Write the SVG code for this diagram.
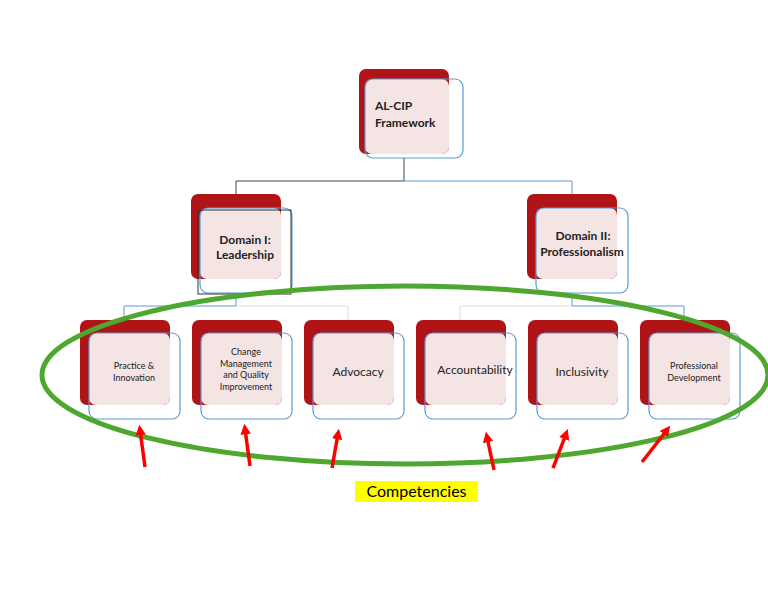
<svg xmlns="http://www.w3.org/2000/svg" width="768" height="594" viewBox="0 0 768 594">
<defs>
<style>
.red{fill:#b01417}
.pink{fill:#f5e4e4}
.frame{fill:none;stroke:#5b9bd5;stroke-width:1.2}
.t{font-family:"Lato","Liberation Sans",sans-serif;fill:#222;text-anchor:middle}
.b{font-weight:bold;font-size:12px}
.s{font-size:9px}
.m{font-size:12px}
.arr{stroke:#ff0000;stroke-width:3.5;fill:none;marker-end:url(#ah)}
</style>
<marker id="ah" viewBox="0 0 10 10" refX="5" refY="5" markerWidth="3" markerHeight="3" orient="auto"><path d="M0,0 L10,5 L0,10 z" fill="#ff0000"/></marker>
</defs>
<rect width="768" height="594" fill="#fff"/>
<g id="connectors" fill="none" stroke-width="1">
<path d="M404 158 V181 H236 V194" stroke="#444"/>
<path d="M404 181 H572 V208" stroke="#5b9bd5"/>
<path d="M236 293 V306 H124 V333" stroke="#5b9bd5"/>
<path d="M236 306 H348 V320" stroke="#ddd"/>
<path d="M572 293 V306 H684 V333" stroke="#5b9bd5"/>
<path d="M572 306 H460 V320" stroke="#ddd"/>
</g>
<g id="n-top"><rect class="red" x="359" y="69" width="90" height="85" rx="7"/><rect class="pink" x="365" y="79" width="84" height="75" rx="7"/><rect class="frame" x="365" y="79" width="98" height="79" rx="8"/>
<text class="t b" x="375" y="110" text-anchor="start" style="text-anchor:start">AL-CIP</text><text class="t b" x="375" y="127" style="text-anchor:start">Framework</text></g>
<g id="n-d1"><rect class="red" x="191" y="194" width="90" height="85" rx="7"/><rect class="pink" x="200" y="208" width="81" height="71" rx="7"/><rect class="frame" x="200" y="208" width="92" height="85" rx="8"/><rect x="198" y="210" width="93" height="84" fill="none" stroke="#333" stroke-width="1"/>
<text class="t b" x="245" y="244">Domain I:</text><text class="t b" x="245" y="259">Leadership</text></g>
<g id="n-d2"><rect class="red" x="527" y="194" width="90" height="85" rx="7"/><rect class="pink" x="536" y="208" width="81" height="71" rx="7"/><rect class="frame" x="536" y="208" width="92" height="85" rx="8"/>
<text class="t b" x="583" y="240">Domain II:</text><text class="t b" x="582" y="256">Professionalism</text></g>
<g id="n-c1"><rect class="red" x="80" y="320" width="90" height="85" rx="7"/><rect class="pink" x="89" y="333" width="81" height="72" rx="7"/><rect class="frame" x="89" y="333" width="91" height="86" rx="8"/>
<text class="t s" x="134" y="369">Practice &amp;</text><text class="t s" x="134" y="381">Innovation</text></g>
<g id="n-c2"><rect class="red" x="192" y="320" width="90" height="85" rx="7"/><rect class="pink" x="201" y="333" width="81" height="72" rx="7"/><rect class="frame" x="201" y="333" width="91" height="86" rx="8"/>
<text class="t s" x="246" y="355">Change</text><text class="t s" x="246" y="367">Management</text><text class="t s" x="246" y="378">and Quality</text><text class="t s" x="246" y="390">Improvement</text></g>
<g id="n-c3"><rect class="red" x="304" y="320" width="90" height="85" rx="7"/><rect class="pink" x="313" y="333" width="81" height="72" rx="7"/><rect class="frame" x="313" y="333" width="91" height="86" rx="8"/>
<text class="t m" x="358" y="376">Advocacy</text></g>
<g id="n-c4"><rect class="red" x="416" y="320" width="90" height="85" rx="7"/><rect class="pink" x="425" y="333" width="81" height="72" rx="7"/><rect class="frame" x="425" y="333" width="91" height="86" rx="8"/>
<text class="t m" x="475" y="374">Accountability</text></g>
<g id="n-c5"><rect class="red" x="528" y="320" width="90" height="85" rx="7"/><rect class="pink" x="537" y="333" width="81" height="72" rx="7"/><rect class="frame" x="537" y="333" width="91" height="86" rx="8"/>
<text class="t m" x="582" y="376">Inclusivity</text></g>
<g id="n-c6"><rect class="red" x="640" y="320" width="90" height="85" rx="7"/><rect class="pink" x="649" y="333" width="81" height="72" rx="7"/><rect class="frame" x="649" y="333" width="91" height="86" rx="8"/>
<text class="t s" x="694" y="369">Professional</text><text class="t s" x="694" y="381">Development</text></g>
<ellipse cx="405" cy="375" rx="363" ry="89" fill="none" stroke="#4ea72e" stroke-width="5"/>
<g id="arrows">
<path class="arr" d="M145 467 L140 430"/>
<path class="arr" d="M250 466 L245 429"/>
<path class="arr" d="M332 468 L338 434"/>
<path class="arr" d="M494 470 L487 437"/>
<path class="arr" d="M553 468 L566 434"/>
<path class="arr" d="M642 462 L667 430"/>
</g>
<g id="label"><rect x="355" y="481" width="123" height="21" fill="#ffff00"/><text x="416.5" y="497" font-family="Lato,'Liberation Sans',sans-serif" font-size="16" text-anchor="middle" fill="#000">Competencies</text></g>
</svg>
